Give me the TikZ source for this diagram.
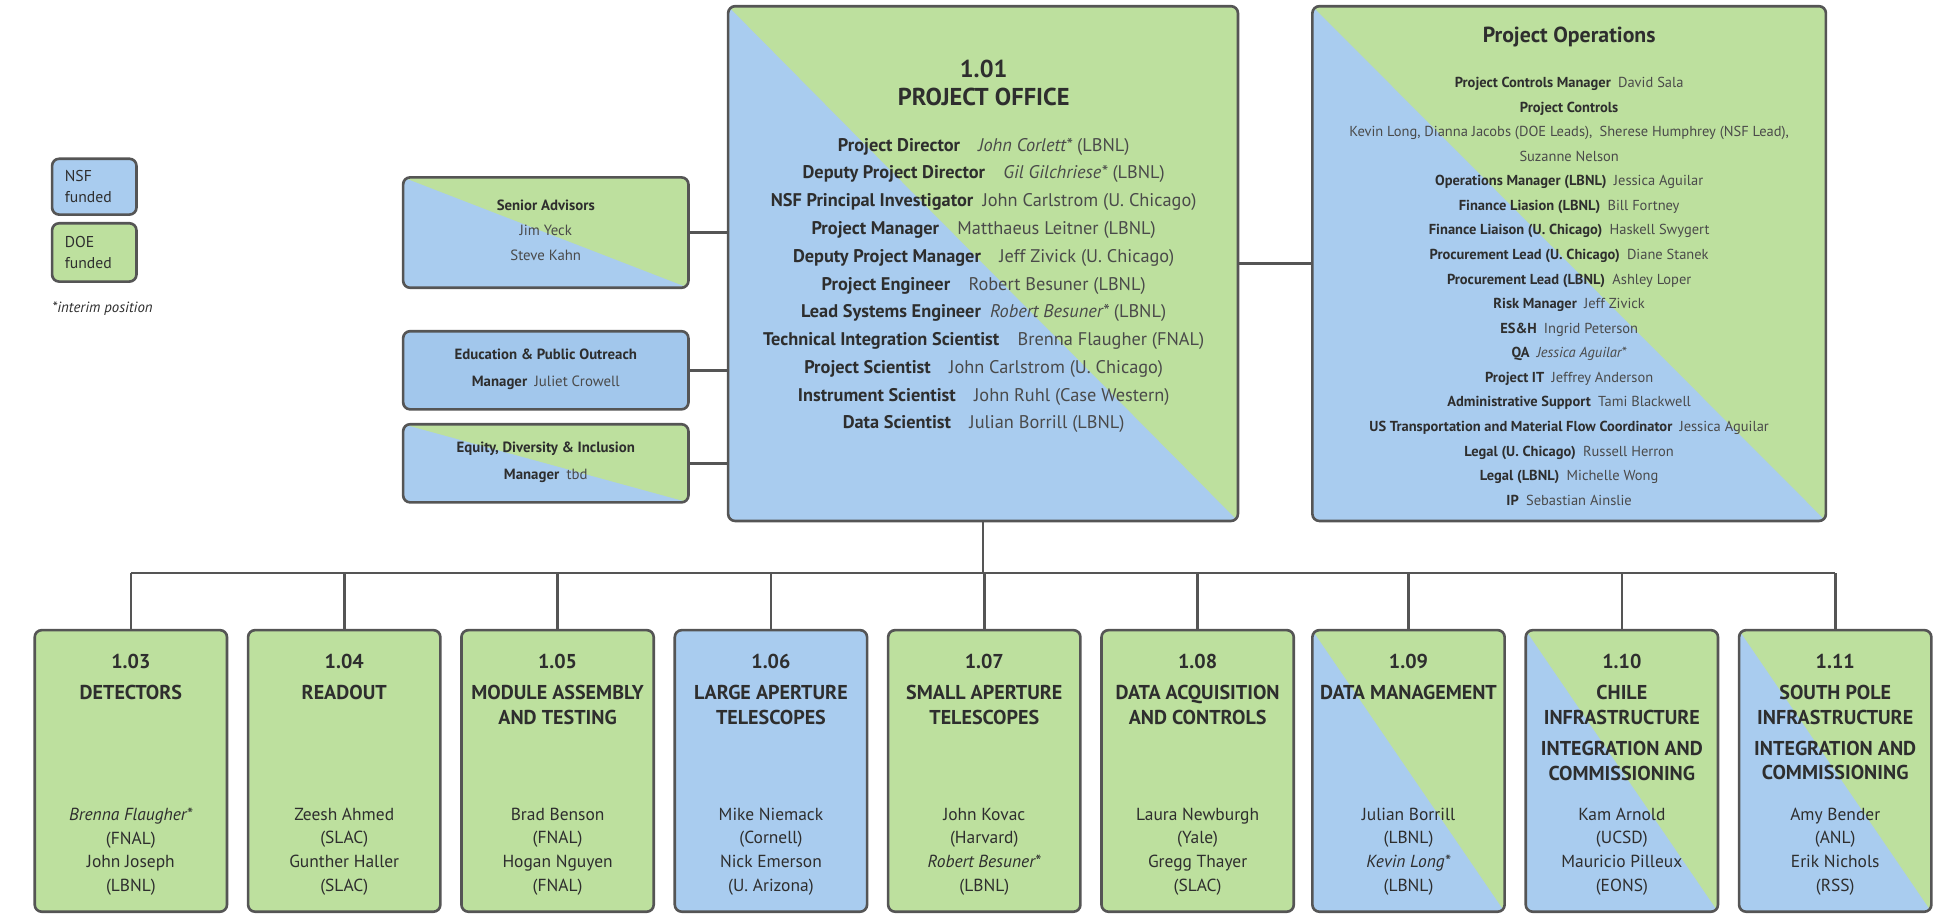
\documentclass[tikz,border=0pt]{standalone}
\usepackage{fontspec}
\setmainfont{PT Sans}
\definecolor{nsf}{HTML}{A9CCEF}
\definecolor{doe}{HTML}{BDE09E}
\definecolor{edu}{HTML}{A2C7EC}
\definecolor{lin}{HTML}{555555}
\definecolor{txt}{HTML}{2E2E2E}
\definecolor{nm}{HTML}{4A4A4A}
\newcommand\mkanchors[5]{%
 \coordinate (#1-n) at ({(#2+#4)/2},#3);
 \coordinate (#1-s) at ({(#2+#4)/2},#5);
 \coordinate (#1-w) at (#2,{(#3+#5)/2});
 \coordinate (#1-e) at (#4,{(#3+#5)/2});
 \coordinate (#1) at ({(#2+#4)/2},{(#3+#5)/2});}
\newcommand\boxsplit[5]{%
 \begin{scope}
 \clip[rounded corners=4pt] (#2,#3) rectangle (#4,#5);
 \fill[nsf] (#2,#3) rectangle (#4,#5);
 \fill[doe] (#2,#3) -- (#4,#3) -- (#4,#5) -- cycle;
 \end{scope}
 \draw[boxline] (#2,#3) rectangle (#4,#5);
 \mkanchors{#1}{#2}{#3}{#4}{#5}}
\newcommand\boxfill[6]{%
 \draw[boxline,fill=#6] (#2,#3) rectangle (#4,#5);
 \mkanchors{#1}{#2}{#3}{#4}{#5}}
\newcommand\nme[1]{{\color{nm}#1}}
\begin{document}
\begin{tikzpicture}[x=0.025cm,y=-0.025cm,
 boxline/.style={draw=lin,line width=1.5pt,rounded corners=4pt},
 conn/.style={draw=lin,line width=1.5pt},
 txt/.style={inner sep=0,text=txt,align=center},
 bt/.style={txt,font=\fontsize{11.5}{14}\selectfont\bfseries},
 bn/.style={txt,anchor=north,font=\fontsize{10}{13.6}\selectfont\color{nm}}]
\useasboundingbox (0,0) rectangle (1568,741);
% legend
\boxfill{lnsf}{42}{128}{110}{173}{nsf}
\boxfill{ldoe}{42}{180}{110}{227}{doe}
\node[txt,align=left,anchor=west,font=\fontsize{9}{12}\selectfont\color{nm}] (lnsft) at (52,150.5) {NSF\\funded};
\node[txt,align=left,anchor=west,font=\fontsize{9}{12}\selectfont\color{nm}] (ldoet) at (52,203.5) {DOE\\funded};
\node[txt,anchor=west,font=\fontsize{8.5}{10}\selectfont\itshape\color{nm}] (lint) at (42,249) {*interim position};
% side boxes
\boxsplit{sa}{325}{143}{555}{232}
\node[txt,anchor=north,font=\fontsize{8.5}{20\dimexpr 0.025cm\relax}\selectfont] (sat) at (440,161) {\textbf{Senior Advisors}\\\nme{Jim Yeck}\\\nme{Steve Kahn}};
\boxfill{edu}{325}{267}{555}{330}{edu}
\node[txt,anchor=north,font=\fontsize{8.5}{22\dimexpr 0.025cm\relax}\selectfont] (edut) at (440,281) {\textbf{Education \& Public Outreach}\\\textbf{Manager}\enspace\nme{Juliet Crowell}};
\boxsplit{edi}{325}{342}{555}{405}
\node[txt,anchor=north,font=\fontsize{8.5}{22\dimexpr 0.025cm\relax}\selectfont] (edit) at (440,356) {\textbf{Equity, Diversity \& Inclusion}\\\textbf{Manager}\enspace\nme{tbd}};
% project office
\boxsplit{po}{587}{5}{998}{420}
\node[txt,anchor=north,font=\fontsize{14}{23\dimexpr 0.025cm\relax}\selectfont\bfseries] (pot) at (793,48) {1.01\\PROJECT OFFICE};
\node[txt,anchor=north,font=\fontsize{10.5}{22.4\dimexpr 0.025cm\relax}\selectfont] (por) at (793,111) {%
\textbf{Project Director}\quad\nme{\textit{John Corlett*} (LBNL)}\\
\textbf{Deputy Project Director}\quad\nme{\textit{Gil Gilchriese*} (LBNL)}\\
\textbf{NSF Principal Investigator}\enspace\nme{John Carlstrom (U. Chicago)}\\
\textbf{Project Manager}\quad\nme{Matthaeus Leitner (LBNL)}\\
\textbf{Deputy Project Manager}\quad\nme{Jeff Zivick (U. Chicago)}\\
\textbf{Project Engineer}\quad\nme{Robert Besuner (LBNL)}\\
\textbf{Lead Systems Engineer}\enspace\nme{\textit{Robert Besuner*} (LBNL)}\\
\textbf{Technical Integration Scientist}\quad\nme{Brenna Flaugher (FNAL)}\\
\textbf{Project Scientist}\quad\nme{John Carlstrom (U. Chicago)}\\
\textbf{Instrument Scientist}\quad\nme{John Ruhl (Case Western)}\\
\textbf{Data Scientist}\quad\nme{Julian Borrill (LBNL)}};
% operations
\boxsplit{ops}{1058}{5}{1472}{420}
\node[txt,font=\fontsize{12.5}{15}\selectfont\bfseries] (opst) at (1265,30) {Project Operations};
\node[txt,anchor=north,font=\fontsize{8.3}{19.8\dimexpr 0.025cm\relax}\selectfont] (opsr) at (1265,62) {%
\textbf{Project Controls Manager}\enspace\nme{David Sala}\\
\textbf{Project Controls}\\
\nme{Kevin Long, Dianna Jacobs (DOE Leads),\enspace Sherese Humphrey (NSF Lead),}\\
\nme{Suzanne Nelson}\\
\textbf{Operations Manager (LBNL)}\enspace\nme{Jessica Aguilar}\\
\textbf{Finance Liasion (LBNL)}\enspace\nme{Bill Fortney}\\
\textbf{Finance Liaison (U. Chicago)}\enspace\nme{Haskell Swygert}\\
\textbf{Procurement Lead (U. Chicago)}\enspace\nme{Diane Stanek}\\
\textbf{Procurement Lead (LBNL)}\enspace\nme{Ashley Loper}\\
\textbf{Risk Manager}\enspace\nme{Jeff Zivick}\\
\textbf{ES\&H}\enspace\nme{Ingrid Peterson}\\
\textbf{QA}\enspace\nme{\textit{Jessica Aguilar*}}\\
\textbf{Project IT}\enspace\nme{Jeffrey Anderson}\\
\textbf{Administrative Support}\enspace\nme{Tami Blackwell}\\
\textbf{US Transportation and Material Flow Coordinator}\enspace\nme{Jessica Aguilar}\\
\textbf{Legal (U. Chicago)}\enspace\nme{Russell Herron}\\
\textbf{Legal (LBNL)}\enspace\nme{Michelle Wong}\\
\textbf{IP}\enspace\nme{Sebastian Ainslie}};
% bottom boxes
\boxfill{b3}{28}{508}{183}{735}{doe}
\boxfill{b4}{200}{508}{355}{735}{doe}
\boxfill{b5}{372}{508}{527}{735}{doe}
\boxfill{b6}{544}{508}{699}{735}{nsf}
\boxfill{b7}{716}{508}{871}{735}{doe}
\boxfill{b8}{888}{508}{1043}{735}{doe}
\boxsplit{b9}{1058}{508}{1213}{735}
\boxsplit{b10}{1230}{508}{1385}{735}
\boxsplit{b11}{1402}{508}{1557}{735}
\foreach \b/\x/\t in {b3/105.5/{1.03\\[4pt]DETECTORS}, b4/277.5/{1.04\\[4pt]READOUT}, b5/449.5/{1.05\\[4pt]MODULE ASSEMBLY\\AND TESTING}, b6/621.5/{1.06\\[4pt]LARGE APERTURE\\TELESCOPES}, b7/793.5/{1.07\\[4pt]SMALL APERTURE\\TELESCOPES}, b8/965.5/{1.08\\[4pt]DATA ACQUISITION\\AND CONTROLS}, b9/1135.5/{1.09\\[4pt]DATA MANAGEMENT}, b10/1307.5/{1.10\\[4pt]CHILE\\INFRASTRUCTURE\\[4pt]INTEGRATION AND\\COMMISSIONING}, b11/1479.5/{1.11\\[4pt]SOUTH POLE\\INFRASTRUCTURE\\[4pt]INTEGRATION AND\\COMMISSIONING}}
  \node[bt,anchor=north] (\b-title) at (\x,527) {\t};
\foreach \b/\x/\t in {b3/105.5/{\textit{Brenna Flaugher*}\\(FNAL)\\John Joseph\\(LBNL)}, b4/277.5/{Zeesh Ahmed\\(SLAC)\\Gunther Haller\\(SLAC)}, b5/449.5/{Brad Benson\\(FNAL)\\Hogan Nguyen\\(FNAL)}, b6/621.5/{Mike Niemack\\(Cornell)\\Nick Emerson\\(U. Arizona)}, b7/793.5/{John Kovac\\(Harvard)\\\textit{Robert Besuner*}\\(LBNL)}, b8/965.5/{Laura Newburgh\\(Yale)\\Gregg Thayer\\(SLAC)}, b9/1135.5/{Julian Borrill\\(LBNL)\\\textit{Kevin Long*}\\(LBNL)}, b10/1307.5/{Kam Arnold\\(UCSD)\\Mauricio Pilleux\\(EONS)}, b11/1479.5/{Amy Bender\\(ANL)\\Erik Nichols\\(RSS)}}
  \node[bn] (\b-names) at (\x,651) {\t};
% connectors
\draw[conn] (sa-e) -- (sa-e -| po-w);
\draw[conn] (edu-e) -- (edu-e -| po-w);
\draw[conn] (edi-e) -- (edi-e -| po-w);
\draw[conn] (po-e) -- (ops-w);
\coordinate (busy) at (0,462);
\draw[conn] (po-s) -- (po-s |- busy);
\draw[conn] (b3-n |- busy) -- (b11-n |- busy);
\foreach \b in {b3,b4,b5,b6,b7,b8,b9,b10,b11}
  \draw[conn] (\b-n) -- (\b-n |- busy);
\end{tikzpicture}
\end{document}
